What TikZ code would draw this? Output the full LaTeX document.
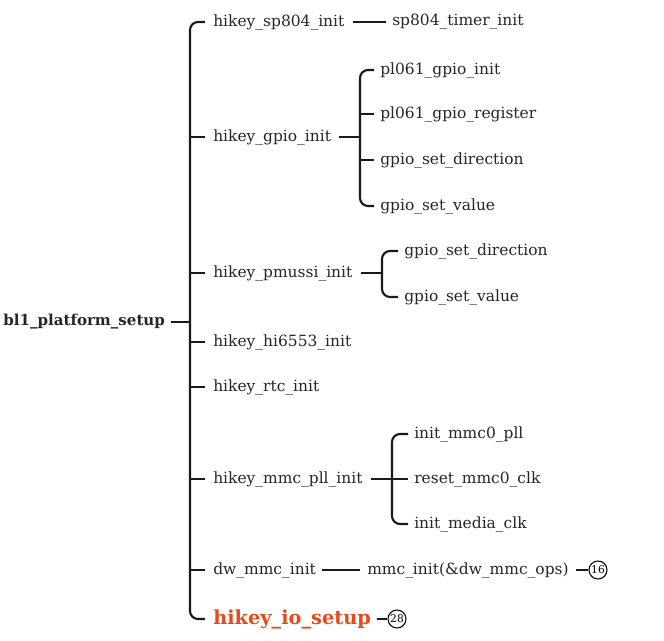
\documentclass[tikz,border=0pt]{standalone}
\usepackage{fontspec}
\setmainfont{DejaVu Serif}
\usetikzlibrary{calc}
\begin{document}
\begin{tikzpicture}[x=0.75pt,y=-0.75pt,
  t/.style={anchor=west,inner sep=0pt,font=\fontsize{11.6}{13}\selectfont,text=black!85},
  ln/.style={line width=1.6pt,black!90},
  br/.style={ln,rounded corners=6pt},
  num/.style={draw,circle,line width=0.8pt,inner sep=0pt,minimum size=13.5pt,font=\fontsize{8}{9}\selectfont}]
\useasboundingbox (0,0) rectangle (664,640);
\node[t,font=\fontsize{11.3}{13}\selectfont\bfseries] (root) at (3,322) {bl1\_platform\_setup};
% level 1
\node[t] (a) at (213,22) {hikey\_sp804\_init};
\node[t] (b) at (213,137) {hikey\_gpio\_init};
\node[t] (c) at (213,273) {hikey\_pmussi\_init};
\node[t] (d) at (213,342) {hikey\_hi6553\_init};
\node[t] (e) at (213,387) {hikey\_rtc\_init};
\node[t] (f) at (213,479) {hikey\_mmc\_pll\_init};
\node[t] (g) at (213,570) {dw\_mmc\_init};
\node[t,font=\fontsize{14.5}{16}\selectfont\bfseries,text={rgb,255:red,230;green,74;blue,25}] (h) at (213,619) {hikey\_io\_setup};
\coordinate (B0) at (190,322);
\draw[ln] ($(root.east)+(6,0)$) -- (B0);
\draw[br] ($(a.west)+(-8,0)$) -- (190,22) -- (190,619) -- ($(h.west)+(-8,0)$);
\foreach \n in {b,c,d,e,f,g} \draw[ln] (190,0 |- \n.west) -- ($(\n.west)+(-8,0)$);
% a
\node[t] (a1) at (392,22) {sp804\_timer\_init};
\draw[ln] ($(a.east)+(8,0)$) -- ($(a1.west)+(-6,0)$);
% b
\node[t] (b1) at (380,70) {pl061\_gpio\_init};
\node[t] (b2) at (380,114) {pl061\_gpio\_register};
\node[t] (b3) at (380,160) {gpio\_set\_direction};
\node[t] (b4) at (380,206) {gpio\_set\_value};
\draw[ln] ($(b.east)+(8,0)$) -- (360,137);
\draw[br] ($(b1.west)+(-6,0)$) -- (360,70) -- (360,206) -- ($(b4.west)+(-6,0)$);
\foreach \n in {b2,b3} \draw[ln] (360,0 |- \n.west) -- ($(\n.west)+(-6,0)$);
% c
\node[t] (c1) at (404,251) {gpio\_set\_direction};
\node[t] (c2) at (404,297) {gpio\_set\_value};
\draw[ln] ($(c.east)+(8,0)$) -- (382,273);
\draw[br] ($(c1.west)+(-6,0)$) -- (382,251) -- (382,297) -- ($(c2.west)+(-6,0)$);
% f
\node[t] (f1) at (414,434) {init\_mmc0\_pll};
\node[t] (f2) at (414,479) {reset\_mmc0\_clk};
\node[t] (f3) at (414,524) {init\_media\_clk};
\draw[ln] ($(f.east)+(8,0)$) -- (392,479);
\draw[br] ($(f1.west)+(-6,0)$) -- (392,434) -- (392,524) -- ($(f3.west)+(-6,0)$);
\draw[ln] (392,479) -- ($(f2.west)+(-6,0)$);
% g
\node[t] (g1) at (367,570) {mmc\_init(\&dw\_mmc\_ops)};
\draw[ln] ($(g.east)+(6,0)$) -- ($(g1.west)+(-7,0)$);
\node[num] (n16) at (598,570) {16};
\draw[ln] ($(g1.east)+(7,0)$) -- (n16.west);
\node[num] (n28) at (397,619) {28};
\draw[ln] ($(h.east)+(6,0)$) -- (n28.west);
\end{tikzpicture}
\end{document}
